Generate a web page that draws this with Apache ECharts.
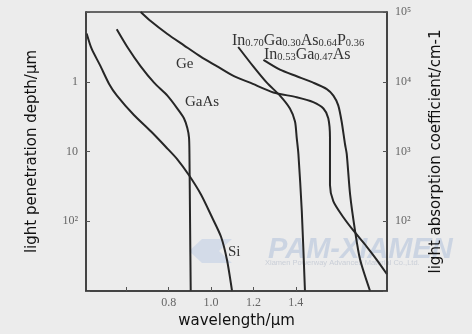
<!DOCTYPE html>
<html>
<head>
<meta charset="utf-8">
<style>
html,body{margin:0;padding:0;background:#ececec;}
#chart{width:472px;height:334px;}
</style>
<script src="https://cdn.jsdelivr.net/npm/echarts@6/dist/echarts.min.js"></script>
</head>
<body>
<div id="chart"></div>
<script>
// wavelength (µm) and absorption coefficient (cm^-1)
var siLambda   = [0.413, 0.437, 0.476, 0.519, 0.556, 0.636, 0.717, 0.787, 0.839, 0.896, 0.953, 1.004, 1.047, 1.075, 1.099];
var siAlpha    = [49300, 29500, 17300, 9310, 6320, 3330, 1930, 1160, 785, 456, 240, 115, 60, 28, 10];

var gaasLambda = [0.555, 0.605, 0.668, 0.731, 0.794, 0.841, 0.872, 0.888, 0.896, 0.898, 0.901, 0.904];
var gaasAlpha  = [56600, 31500, 16600, 9700, 6320, 4130, 3000, 2170, 1580, 923, 92, 10];

var geLambda   = [0.668, 0.715, 0.794, 0.872, 0.951, 1.029, 1.108, 1.184, 1.294, 1.404, 1.482, 1.530, 1.553, 1.561, 1.561, 1.561, 1.577, 1.624, 1.671, 1.734, 1.781, 1.830];
var geAlpha    = [100000, 74100, 48300, 33300, 22900, 16600, 12000, 9700, 7030, 6000, 5100, 4130, 3000, 1580, 923, 330, 193, 114, 73.8, 43.4, 28.2, 17.4];

var ingaaspLambda = [1.128, 1.199, 1.263, 1.325, 1.372, 1.396, 1.404, 1.412, 1.428, 1.443];
var ingaaspAlpha  = [31500, 16600, 9700, 6320, 4130, 2690, 1580, 923, 140, 10];

var ingaasLambda = [1.247, 1.325, 1.404, 1.482, 1.546, 1.577, 1.600, 1.616, 1.632, 1.640, 1.656, 1.679, 1.703, 1.750];
var ingaasAlpha  = [20600, 14900, 12000, 9700, 7850, 6320, 4590, 2690, 1270, 923, 240, 73.8, 28.2, 10];

var xTickValues  = [0.6, 0.8, 1.0, 1.2, 1.4];
var xLabelValues = [0.8, 1.0, 1.2, 1.4];
var leftLabels   = {1: '1', 10: '10', 100: '10²'};
var rightLabels  = {100: '10²', 1000: '10³', 10000: '10⁴', 100000: '10⁵'};

function pairs(xs, ys) { return xs.map(function (x, i) { return [x, ys[i]]; }); }
function lookup(map, v) {
  for (var k in map) { if (Math.abs(Math.log10(v) - Math.log10(+k)) < 1e-6) return map[k]; }
  return '';
}

var lineColor = '#262626';
var serif = '"Liberation Serif","DejaVu Serif",serif';
var sans = '"DejaVu Sans",sans-serif';

function curve(name, xs, ys) {
  return {
    name: name, type: 'line', yAxisIndex: 1, data: pairs(xs, ys),
    smooth: 0.25, symbol: 'none',
    lineStyle: {color: lineColor, width: 2}, z: 5
  };
}

var subStyle = {fontSize: 10.5, fontFamily: serif, fill: '#333', verticalAlign: 'bottom', padding: [6, 0, 0, 0]};

var chart = echarts.init(document.getElementById('chart'), null, {renderer: 'canvas'});
chart.setOption({
  backgroundColor: '#ececec',
  animation: false,
  grid: {left: 86, right: 85, top: 12, bottom: 35, show: true, borderColor: '#3a3a3a', borderWidth: 1.5, backgroundColor: 'transparent'},
  xAxis: {
    type: 'value', min: 0.41, max: 1.83, z: 10,
    name: 'wavelength/μm', nameLocation: 'middle', nameGap: 23,
    nameTextStyle: {fontFamily: sans, fontSize: 15, color: '#111'},
    axisLine: {lineStyle: {color: '#3a3a3a', width: 1.5}},
    axisTick: {inside: true, length: 4, customValues: xTickValues, lineStyle: {color: '#555'}},
    axisLabel: {customValues: xLabelValues, formatter: function (v) { return v.toFixed(1); }, fontFamily: serif, fontSize: 12, color: '#666', margin: 6},
    splitLine: {show: false}
  },
  yAxis: [
    {
      type: 'log', inverse: true, min: 0.1, max: 1000, position: 'left', z: 10,
      name: 'light penetration depth/μm', nameLocation: 'middle', nameGap: 46,
      nameTextStyle: {fontFamily: sans, fontSize: 15, color: '#111'},
      axisLine: {show: true, lineStyle: {color: '#3a3a3a', width: 1.5}},
      axisTick: {inside: true, length: 4, lineStyle: {color: '#555'}},
      axisLabel: {formatter: function (v) { return lookup(leftLabels, v); }, fontFamily: serif, fontSize: 12, color: '#666', margin: 8},
      splitLine: {show: false}
    },
    {
      type: 'log', min: 10, max: 100000, position: 'right', z: 10,
      name: 'light absorption coefficient/cm-1', nameLocation: 'middle', nameGap: 42,
      nameRotate: 90,
      nameTextStyle: {fontFamily: sans, fontSize: 15, color: '#111'},
      axisLine: {show: true, lineStyle: {color: '#3a3a3a', width: 1.5}},
      axisTick: {inside: true, length: 4, lineStyle: {color: '#555'}},
      axisLabel: {formatter: function (v) { return lookup(rightLabels, v); }, fontFamily: serif, fontSize: 12, color: '#666', margin: 8},
      splitLine: {show: false}
    }
  ],
  graphic: [
    {type: 'polygon', z: -10, shape: {points: [[202,239],[232,239],[219,251],[232,263],[202,263],[189,251]]}, style: {fill: 'rgba(175,195,228,0.4)'}},
    {type: 'text', z: -10, x: 268, y: 235, style: {text: 'PAM-XIAMEN', font: 'italic bold 29px "Liberation Sans",sans-serif', fill: 'rgba(165,183,215,0.45)'}},
    {type: 'text', z: -10, x: 265, y: 259, style: {text: 'Xiamen Powerway Advanced Material Co.,Ltd.', font: '7.5px "Liberation Sans",sans-serif', fill: 'rgba(160,170,190,0.45)'}},
    {type: 'text', z: 10, x: 176, y: 57, style: {text: 'Ge', font: '15px ' + serif, fill: '#333'}},
    {type: 'text', z: 10, x: 185, y: 95, style: {text: 'GaAs', font: '15px ' + serif, fill: '#333'}},
    {type: 'text', z: 10, x: 228, y: 245, style: {text: 'Si', font: '15px ' + serif, fill: '#333'}},
    {type: 'text', z: 10, x: 232, y: 32, style: {
      text: 'In{s|0.70}Ga{s|0.30}As{s|0.64}P{s|0.36}',
      font: '16px ' + serif, fill: '#333', rich: {s: subStyle}
    }},
    {type: 'text', z: 10, x: 264, y: 46, style: {
      text: 'In{s|0.53}Ga{s|0.47}As',
      font: '16px ' + serif, fill: '#333', rich: {s: subStyle}
    }}
  ],
  series: [
    curve('Si', siLambda, siAlpha),
    curve('GaAs', gaasLambda, gaasAlpha),
    curve('Ge', geLambda, geAlpha),
    curve('In0.70Ga0.30As0.64P0.36', ingaaspLambda, ingaaspAlpha),
    curve('In0.53Ga0.47As', ingaasLambda, ingaasAlpha)
  ]
});
</script>
</body>
</html>
